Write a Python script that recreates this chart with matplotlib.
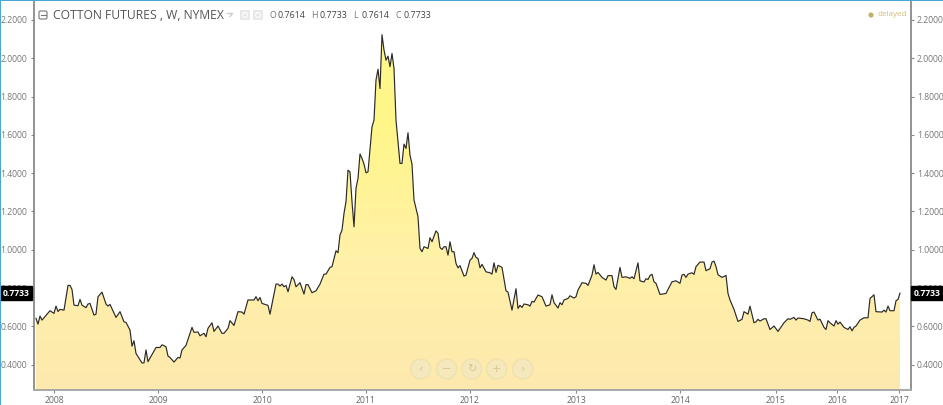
import numpy as np
import matplotlib.pyplot as plt
from matplotlib.colors import LinearSegmentedColormap
from matplotlib.patches import Circle, FancyBboxPatch, Rectangle

plt.rcParams['font.family'] = ['Open Sans', 'DejaVu Sans']

# week number (bar index) and weekly close
weeks = [0, 1, 2, 3, 7, 9, 10, 11, 12, 14, 16, 17, 18, 19, 21, 22, 23, 25, 26, 27, 29, 30, 31, 33, 35, 36, 37, 40,
         42, 44, 45, 47, 48, 49, 50, 53, 54, 55, 56, 60, 62, 63, 65, 66, 67, 69, 71, 72, 73, 75, 78, 79, 81, 82, 84,
         85, 86, 88, 89, 91, 93, 94, 96, 97, 99, 101, 103, 104, 106, 109, 110, 111, 112, 113, 116, 117, 120, 121,
         122, 123, 124, 125, 126, 128, 129, 130, 132, 134, 135, 136, 138, 140, 142, 144, 145, 147, 148,
         150, 151, 152, 153, 154, 155, 156, 157, 158, 159, 160, 161, 162, 163, 164, 165, 166, 168, 169, 170, 171,
         172, 173, 174, 175, 176, 177, 178, 179, 180, 182, 183, 184, 185, 186, 187, 188, 189, 191, 192, 193, 194,
         196, 197, 198, 200, 201, 202, 203, 204, 205, 206, 207, 208, 209, 210, 211, 212, 214, 215, 217, 218, 219,
         220, 221, 222, 223, 225, 227, 228, 229, 230, 231, 233, 235, 236, 238, 240, 241, 242, 243, 244, 246, 247,
         248, 249, 251, 253, 255, 257, 258, 259, 261, 262, 263, 264, 266, 267, 269, 270, 271, 273, 275, 276, 278,
         279, 280, 281, 283, 285, 286, 288, 289, 290, 292, 293, 295, 297, 298, 299, 301, 302, 304, 305, 306, 307,
         308, 309, 310, 312, 315, 316, 318, 320, 322, 323, 324, 325, 326, 328, 329, 330, 332, 334, 335, 337, 338,
         339, 340, 341, 343, 345, 346, 347, 349, 351, 353, 354, 356, 357, 359, 360, 361, 362, 364, 365, 367, 369,
         371, 374, 376, 377, 379, 380, 381, 384, 386, 387, 388, 389, 391, 392, 394, 395, 396, 397, 399, 400, 401,
         402, 404, 406, 407, 408, 409, 410, 412, 414, 416, 417, 419, 420, 423, 424, 425, 426, 427, 429, 430, 431,
         432]
prices = [.642, .612, .654, .633, .682, .668, .706, .678, .689, .685, .814, .814, .793, .711, .708, .741, .711, .698,
          .717, .720, .659, .664, .755, .779, .717, .706, .715, .647, .677, .624, .621, .581, .497, .525, .459, .409,
          .410, .477, .416, .490, .490, .504, .494, .445, .438, .414, .438, .435, .477, .501, .595, .569, .571, .551,
          .564, .546, .590, .619, .574, .602, .564, .564, .590, .630, .605, .677, .675, .664, .738, .738, .755, .734,
          .751, .720, .710, .664, .821, .821, .811, .821, .807, .814, .781, .859, .845, .807, .828, .769, .818, .818,
          .776, .786, .821, .873, .873, .908, .912, .995, .985, 1.077, 1.103, 1.190, 1.251, 1.416, 1.406, 1.251,
          1.120, 1.321, 1.373, 1.500, 1.477, 1.447, 1.402, 1.407, 1.642, 1.677, 1.886, 1.943, 1.842, 2.123, 2.043,
          1.990, 2.011, 1.956, 2.025, 1.947, 1.677, 1.451, 1.451, 1.552, 1.529, 1.611, 1.494, 1.447, 1.260, 1.173,
          1.007, .990, 1.016, 1.007, 1.063, 1.042, 1.099, 1.086, 1.012, 1.002, 1.016, 1.016, .972, 1.042, .990, .990,
          .929, .906, .917, .863, .868, .946, .955, .985, .960, .955, .906, .924, .885, .880, .873, .932, .882, .919,
          .908, .786, .779, .685, .797, .694, .710, .699, .717, .713, .706, .731, .727, .764, .755, .706, .713, .765,
          .724, .696, .724, .713, .738, .746, .760, .748, .755, .790, .828, .825, .814, .868, .922, .873, .882, .856,
          .842, .865, .865, .807, .793, .908, .856, .859, .851, .859, .849, .932, .838, .832, .849, .845, .866, .872,
          .833, .825, .767, .772, .793, .833, .838, .825, .868, .872, .856, .873, .880, .872, .912, .936, .936, .891,
          .901, .936, .941, .912, .870, .856, .866, .772, .738, .689, .626, .637, .677, .664, .706, .619, .624, .637,
          .628, .640, .640, .584, .602, .574, .619, .640, .637, .647, .633, .644, .640, .633, .626, .671, .675, .633,
          .638, .595, .584, .630, .619, .602, .630, .612, .623, .595, .584, .598, .577, .595, .602, .633, .645, .645,
          .746, .765, .677, .675, .685, .675, .706, .682, .682, .734, .741, .7733]

year_ticks = [9, 61, 113, 165, 217, 270, 322, 370, 400.5, 431.5]
year_labels = ['2008', '2009', '2010', '2011', '2012', '2013', '2014', '2015', '2016', '2017']
price_ticks = [0.4, 0.6, 0.8, 1.0, 1.2, 1.4, 1.6, 1.8, 2.0, 2.2]
last_close = 0.7733
ohlc = [('O', '0.7614'), ('H', '0.7733'), ('L', '0.7614'), ('C', '0.7733')]

W, H = 943, 405
fig = plt.figure(figsize=(W / 100, H / 100), dpi=100)
ax = fig.add_axes([33.5 / W, 1 - 390 / H, (910.5 - 33.5) / W, 389 / H])

x_min, x_max = -1.25, 437.25
y_min, y_max = 0.268, 2.299

# yellow gradient under the line
cmap = LinearSegmentedColormap.from_list('area', ['#fde9ae', '#fff1a8', '#fff68a', '#fff98a'])
grad = np.linspace(0, 1, 256).reshape(-1, 1)
im = ax.imshow(grad, extent=[x_min, x_max, y_min, y_max], origin='lower', aspect='auto', cmap=cmap, zorder=1)
area = ax.fill_between(weeks, prices, y_min, facecolor='none', edgecolor='none')
im.set_clip_path(area.get_paths()[0], transform=ax.transData)
ax.plot(weeks, prices, color='#2a2a2a', lw=0.85, zorder=3)

ax.set_xlim(x_min, x_max)
ax.set_ylim(y_min, y_max)
ax.set_xticks(year_ticks)
ax.set_xticklabels(year_labels)
ax.set_yticks(price_ticks)
ax.set_yticklabels(['%.4f' % p for p in price_ticks])
ax.tick_params(axis='x', length=2.5, width=0.8, color='#888888', labelcolor='#666666', labelsize=6.2, pad=2)
ax.tick_params(axis='y', length=2.5, width=0.8, color='#888888', labelcolor='#777777', labelsize=6.2, pad=2,
               left=True, right=True, labelleft=True, labelright=True)
ax.spines['top'].set_visible(False)
ax.spines['left'].set_color('#808080')
ax.spines['right'].set_color('#808080')
ax.spines['bottom'].set_color('#a8a8a8')
ax.spines['left'].set_linewidth(1.2)
ax.spines['right'].set_linewidth(1.2)
ax.spines['bottom'].set_linewidth(1.4)

# last price tags on both scales
tag = dict(facecolor='black', edgecolor='black', boxstyle='square,pad=0.3')
ax.text(-0.0045, last_close, '%.4f' % last_close, transform=ax.get_yaxis_transform(), ha='right', va='center',
        color='white', fontsize=6.2, fontweight='bold', bbox=tag, zorder=10, clip_on=False)
ax.text(1.0035, last_close, '%.4f' % last_close, transform=ax.get_yaxis_transform(), ha='left', va='center',
        color='white', fontsize=6.2, fontweight='bold', bbox=tag, zorder=10, clip_on=False)

# overlay in pixel coordinates for the chart widget chrome
ui = fig.add_axes([0, 0, 1, 1], facecolor='none')
ui.set_xlim(0, W)
ui.set_ylim(H, 0)
ui.axis('off')

ui.add_patch(Rectangle((0, 0), W, 1.2, fc='#4aa6d6', ec='none'))
ui.add_patch(Rectangle((0, 0), 1.3, H, fc='#4aa6d6', ec='none'))

ui.add_patch(FancyBboxPatch((39, 11), 8, 8, boxstyle='round,pad=0,rounding_size=1.5', fc='none', ec='#777777', lw=0.8))
ui.plot([40.5, 45.5], [15, 15], color='#777777', lw=0.8)
ui.text(53, 15.5, 'COTTON FUTURES , W, NYMEX', fontsize=8.7, color='#555555', va='center', ha='left')
ui.plot([227.5, 232.5, 230], [13.5, 13.5, 16.5], color='#cccccc', lw=1)
for bx in [240, 253]:
    ui.add_patch(Rectangle((bx, 10), 10, 10, fc='#e8e8e8', ec='none'))
    ui.add_patch(Circle((bx + 5, 15), 2.5, fc='none', ec='#ffffff', lw=0.8))

ox = 269
for name, val in ohlc:
    ui.text(ox, 15.5, name, fontsize=6.4, color='#777777', va='center', ha='left')
    ui.text(ox + 9, 15.5, val, fontsize=6.4, color='#444444', va='center', ha='left')
    ox += 42

ui.add_patch(Circle((871, 15), 2.6, fc='#c3b06c', ec='none'))
ui.text(877, 15, 'delayed', fontsize=5.8, color='#d2bc76', va='center', ha='left')

# zoom and scroll buttons
nav_x = [420.7, 446.7, 471.7, 496.7, 522.7]
nav_glyph = ['‹', '−', '↻', '+', '›']
for nx, glyph in zip(nav_x, nav_glyph):
    ui.add_patch(Circle((nx, 369), 10, fc='#f5e8bd', ec='#efe1ae', lw=1))
    ui.text(nx, 369, glyph, fontsize=8, color='#d6c78f', ha='center', va='center', family='DejaVu Sans')

fig.savefig('out.png', dpi=100)
